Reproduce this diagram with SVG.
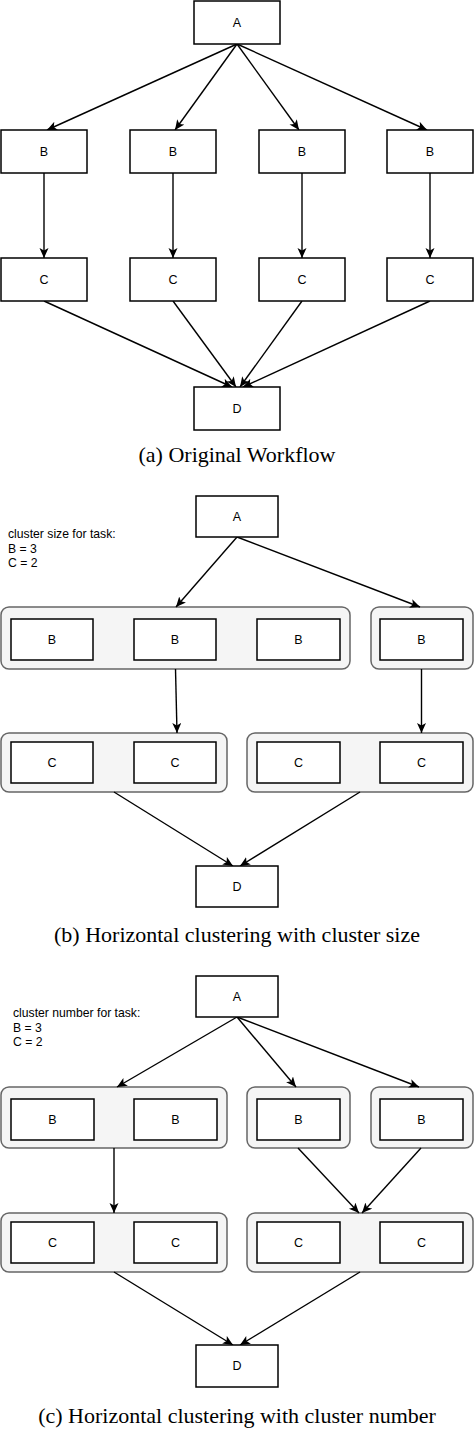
<svg xmlns="http://www.w3.org/2000/svg" width="474" height="1430" viewBox="0 0 474 1430">
<style>
.n rect{fill:#fff;stroke:#000;stroke-width:1.5}
.n text{font-family:"Liberation Sans",Arial,sans-serif;font-size:12.5px;fill:#000;text-anchor:middle;dominant-baseline:central}
.g{fill:#f5f5f5;stroke:#666;stroke-width:1.5}
.e{fill:none;stroke:#000;stroke-width:1.4;marker-end:url(#arr)}
.cap{font-family:"Liberation Serif","Times New Roman",serif;font-size:22px;fill:#000;text-anchor:middle}
.note{font-family:"Liberation Sans",Arial,sans-serif;font-size:12.2px;fill:#000}
</style>
<defs>
<marker id="arr" markerUnits="userSpaceOnUse" markerWidth="11" markerHeight="10" refX="10" refY="4.5" orient="auto">
<path d="M0,0 L10,4.5 L0,9 L2.5,4.5 z" fill="#000"/>
</marker>
</defs>
<rect width="474" height="1430" fill="#fff"/>

<!-- (a) -->
<g id="edges-a">
<path class="e" d="M237,44 L47,130"/>
<path class="e" d="M237,44 L175,130"/>
<path class="e" d="M237,44 L299,130"/>
<path class="e" d="M237,44 L427,130"/>
<path class="e" d="M44,173 L44,258"/>
<path class="e" d="M173,173 L173,258"/>
<path class="e" d="M302,173 L302,258"/>
<path class="e" d="M430,173 L430,258"/>
<path class="e" d="M44,301 L232,387"/>
<path class="e" d="M173,301 L236,387"/>
<path class="e" d="M302,301 L240,387"/>
<path class="e" d="M430,301 L243,387"/>
</g>
<g id="a-A" class="n"><rect x="194" y="1" width="86" height="43"/><text x="237" y="23">A</text></g>
<g id="a-B1" class="n"><rect x="1" y="130" width="86" height="43"/><text x="44" y="152">B</text></g>
<g id="a-B2" class="n"><rect x="130" y="130" width="86" height="43"/><text x="173" y="152">B</text></g>
<g id="a-B3" class="n"><rect x="259" y="130" width="86" height="43"/><text x="302" y="152">B</text></g>
<g id="a-B4" class="n"><rect x="387" y="130" width="86" height="43"/><text x="430" y="152">B</text></g>
<g id="a-C1" class="n"><rect x="1" y="258" width="86" height="43"/><text x="44" y="280">C</text></g>
<g id="a-C2" class="n"><rect x="130" y="258" width="86" height="43"/><text x="173" y="280">C</text></g>
<g id="a-C3" class="n"><rect x="259" y="258" width="86" height="43"/><text x="302" y="280">C</text></g>
<g id="a-C4" class="n"><rect x="387" y="258" width="86" height="43"/><text x="430" y="280">C</text></g>
<g id="a-D" class="n"><rect x="194" y="387" width="86" height="43"/><text x="237" y="409">D</text></g>
<text class="cap" x="237" y="462">(a) Original Workflow</text>

<!-- (b) -->
<text class="note" x="8" y="538">cluster size for task:</text>
<text class="note" x="8" y="553">B = 3</text>
<text class="note" x="8" y="567">C = 2</text>
<g id="b-clusterB1"><rect class="g" x="1" y="607" width="349" height="62" rx="8"/></g>
<g id="b-clusterB2"><rect class="g" x="371" y="607" width="102" height="62" rx="8"/></g>
<g id="b-clusterC1"><rect class="g" x="1" y="733" width="226" height="59" rx="8"/></g>
<g id="b-clusterC2"><rect class="g" x="247" y="733" width="226" height="59" rx="8"/></g>
<g id="edges-b">
<path class="e" d="M237,537 L176,607"/>
<path class="e" d="M237,537 L420,607"/>
<path class="e" d="M175.5,669 L177,733"/>
<path class="e" d="M421.5,669 L421.5,733"/>
<path class="e" d="M114,792 L233,866"/>
<path class="e" d="M360,792 L240,866"/>
</g>
<g id="b-A" class="n"><rect x="196" y="496" width="82" height="41"/><text x="237" y="517">A</text></g>
<g id="b-B1" class="n"><rect x="11" y="619" width="82" height="41"/><text x="52" y="640">B</text></g>
<g id="b-B2" class="n"><rect x="134" y="619" width="82" height="41"/><text x="175" y="640">B</text></g>
<g id="b-B3" class="n"><rect x="257" y="619" width="83" height="41"/><text x="298.5" y="640">B</text></g>
<g id="b-B4" class="n"><rect x="380" y="619" width="83" height="41"/><text x="421.5" y="640">B</text></g>
<g id="b-C1" class="n"><rect x="11" y="742" width="82" height="41"/><text x="52" y="763">C</text></g>
<g id="b-C2" class="n"><rect x="134" y="742" width="82" height="41"/><text x="175" y="763">C</text></g>
<g id="b-C3" class="n"><rect x="257" y="742" width="83" height="41"/><text x="298.5" y="763">C</text></g>
<g id="b-C4" class="n"><rect x="380" y="742" width="83" height="41"/><text x="421.5" y="763">C</text></g>
<g id="b-D" class="n"><rect x="196" y="866" width="82" height="41"/><text x="237" y="887">D</text></g>
<text class="cap" x="237" y="942">(b) Horizontal clustering with cluster size</text>

<!-- (c) -->
<text class="note" x="13" y="1017">cluster number for task:</text>
<text class="note" x="13" y="1032">B = 3</text>
<text class="note" x="13" y="1046">C = 2</text>
<g id="c-clusterB1"><rect class="g" x="1" y="1087" width="226" height="61" rx="8"/></g>
<g id="c-clusterB2"><rect class="g" x="247" y="1087" width="103" height="61" rx="8"/></g>
<g id="c-clusterB3"><rect class="g" x="371" y="1087" width="102" height="61" rx="8"/></g>
<g id="c-clusterC1"><rect class="g" x="1" y="1213" width="226" height="59" rx="8"/></g>
<g id="c-clusterC2"><rect class="g" x="247" y="1213" width="226" height="59" rx="8"/></g>
<g id="edges-c">
<path class="e" d="M237,1017 L117,1087"/>
<path class="e" d="M237,1017 L296,1087"/>
<path class="e" d="M237,1017 L419,1087"/>
<path class="e" d="M114,1148 L114,1213"/>
<path class="e" d="M298,1148 L359,1213"/>
<path class="e" d="M421,1148 L362,1213"/>
<path class="e" d="M114,1272 L233,1345"/>
<path class="e" d="M360,1272 L240,1345"/>
</g>
<g id="c-A" class="n"><rect x="196" y="976" width="82" height="41"/><text x="237" y="997">A</text></g>
<g id="c-B1" class="n"><rect x="11" y="1099" width="83" height="41"/><text x="52.5" y="1120">B</text></g>
<g id="c-B2" class="n"><rect x="134" y="1099" width="83" height="41"/><text x="175.5" y="1120">B</text></g>
<g id="c-B3" class="n"><rect x="257" y="1099" width="83" height="41"/><text x="298.5" y="1120">B</text></g>
<g id="c-B4" class="n"><rect x="380" y="1099" width="83" height="41"/><text x="421.5" y="1120">B</text></g>
<g id="c-C1" class="n"><rect x="11" y="1222" width="83" height="41"/><text x="52.5" y="1243">C</text></g>
<g id="c-C2" class="n"><rect x="134" y="1222" width="83" height="41"/><text x="175.5" y="1243">C</text></g>
<g id="c-C3" class="n"><rect x="257" y="1222" width="83" height="41"/><text x="298.5" y="1243">C</text></g>
<g id="c-C4" class="n"><rect x="380" y="1222" width="83" height="41"/><text x="421.5" y="1243">C</text></g>
<g id="c-D" class="n"><rect x="196" y="1345" width="82" height="42"/><text x="237" y="1366">D</text></g>
<text class="cap" x="237" y="1423">(c) Horizontal clustering with cluster number</text>
</svg>
